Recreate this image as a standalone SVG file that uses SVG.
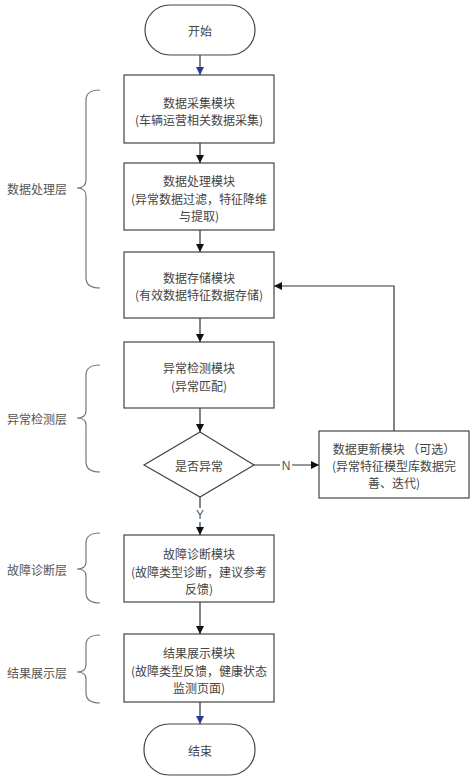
<svg xmlns="http://www.w3.org/2000/svg" width="474" height="779" viewBox="0 0 474 779">
<style>
.box{fill:#fff;stroke:#444;stroke-width:1.2}
.t{font-family:"Noto Sans CJK SC","Noto Sans",sans-serif;font-size:12px;fill:#444;text-anchor:middle;dominant-baseline:central}
.c{fill:none;stroke:#333;stroke-width:1.2}
.br{fill:none;stroke:#777;stroke-width:1.2}
.lbl{font-family:"Noto Sans CJK SC","Noto Sans",sans-serif;font-size:12px;fill:#555;text-anchor:middle;dominant-baseline:central}
</style>
<defs>
<marker id="ab" viewBox="0 0 10 10" refX="10" refY="5" markerWidth="8" markerHeight="8" markerUnits="userSpaceOnUse" orient="auto"><path d="M0,0L10,5L0,10z" fill="#111"/></marker>
<marker id="ablue" viewBox="0 0 10 10" refX="10" refY="5" markerWidth="8" markerHeight="8" markerUnits="userSpaceOnUse" orient="auto"><path d="M0,0L10,5L0,10z" fill="#2b3990"/></marker>
</defs>
<rect width="474" height="779" fill="#fff"/>
<g id="braces">
<path class="br" d="M100,90 Q86,90 86,100 L86,180 Q86,188 77,188 Q86,188 86,196 L86,278 Q86,288 100,288"/>
<text class="lbl" x="37" y="188">数据处理层</text>
<path class="br" d="M100,365 Q86,365 86,375 L86,411 Q86,418 77,418 Q86,418 86,425 L86,462 Q86,472 100,472"/>
<text class="lbl" x="37" y="418">异常检测层</text>
<path class="br" d="M100,533 Q86,533 86,543 L86,562 Q86,569 77,569 Q86,569 86,576 L86,593 Q86,603 100,603"/>
<text class="lbl" x="37" y="569">故障诊断层</text>
<path class="br" d="M100,635 Q86,635 86,645 L86,665 Q86,672 77,672 Q86,672 86,679 L86,693 Q86,703 100,703"/>
<text class="lbl" x="37" y="672">结果展示层</text>
</g>
<g id="connectors">
<line class="c" x1="200" y1="55" x2="200" y2="75" marker-end="url(#ablue)"/>
<line class="c" x1="200" y1="143" x2="200" y2="163" marker-end="url(#ab)"/>
<line class="c" x1="200" y1="230" x2="200" y2="252" marker-end="url(#ab)"/>
<line class="c" x1="200" y1="318" x2="200" y2="342" marker-end="url(#ab)"/>
<line class="c" x1="200" y1="408" x2="200" y2="432" marker-end="url(#ab)"/>
<line class="c" x1="200" y1="497" x2="200" y2="535" marker-end="url(#ab)"/>
<rect x="194" y="508" width="12" height="14" fill="#fff"/>
<text class="lbl" x="200" y="515" style="font-family:'Liberation Sans',sans-serif">Y</text>
<line class="c" x1="254" y1="465" x2="319" y2="465" marker-end="url(#ab)"/>
<rect x="280" y="458" width="12" height="14" fill="#fff"/>
<text class="lbl" x="286" y="466" style="font-family:'Liberation Sans',sans-serif">N</text>
<polyline class="c" points="394,431 394,286 274,286" marker-end="url(#ab)"/>
<line class="c" x1="200" y1="602" x2="200" y2="634" marker-end="url(#ab)"/>
<line class="c" x1="200" y1="702" x2="200" y2="724" marker-end="url(#ablue)"/>
</g>
<g id="start">
<rect class="box" x="145" y="5" width="110" height="50" rx="25"/>
<text class="t" x="200" y="30">开始</text>
</g>
<g id="collect">
<rect class="box" x="124" y="75" width="150" height="68"/>
<text class="t" x="199" y="102">数据采集模块</text>
<text class="t" x="199" y="119">(车辆运营相关数据采集)</text>
</g>
<g id="process">
<rect class="box" x="124" y="163" width="150" height="67"/>
<text class="t" x="199" y="180">数据处理模块</text>
<text class="t" x="199" y="198">(异常数据过滤，特征降维</text>
<text class="t" x="199" y="215">与提取)</text>
</g>
<g id="store">
<rect class="box" x="124" y="252" width="150" height="66"/>
<text class="t" x="199" y="277">数据存储模块</text>
<text class="t" x="199" y="294">(有效数据特征数据存储)</text>
</g>
<g id="detect">
<rect class="box" x="124" y="342" width="150" height="66"/>
<text class="t" x="199" y="367">异常检测模块</text>
<text class="t" x="199" y="385">(异常匹配)</text>
</g>
<g id="decision">
<polygon class="box" points="200,432 254,465 200,497 144,465"/>
<text class="t" x="199" y="465">是否异常</text>
</g>
<g id="update">
<rect class="box" x="319" y="431" width="150" height="67"/>
<text class="t" x="394" y="448">数据更新模块 （可选）</text>
<text class="t" x="394" y="465">(异常特征模型库数据完</text>
<text class="t" x="394" y="482">善、迭代)</text>
</g>
<g id="diagnose">
<rect class="box" x="124" y="535" width="150" height="67"/>
<text class="t" x="199" y="553">故障诊断模块</text>
<text class="t" x="199" y="571">(故障类型诊断，建议参考</text>
<text class="t" x="199" y="588">反馈)</text>
</g>
<g id="display">
<rect class="box" x="124" y="634" width="150" height="68"/>
<text class="t" x="199" y="652">结果展示模块</text>
<text class="t" x="199" y="670">(故障类型反馈，健康状态</text>
<text class="t" x="199" y="687">监测页面)</text>
</g>
<g id="end">
<rect class="box" x="144" y="724" width="111" height="51" rx="25"/>
<text class="t" x="200" y="750">结束</text>
</g>
</svg>
